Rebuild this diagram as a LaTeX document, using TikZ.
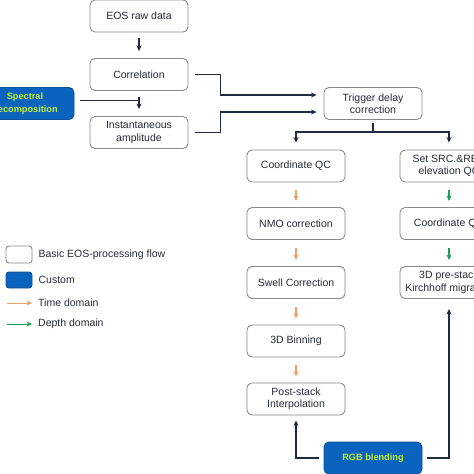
\documentclass[tikz,border=0pt]{standalone}
\usepackage{fontspec}
\setmainfont{Liberation Sans}
\usetikzlibrary{arrows, arrows.meta}
\usetikzlibrary{calc}
\usetikzlibrary{positioning}

\definecolor{navy}{HTML}{1F2A44}
\definecolor{boxgray}{HTML}{8A8A8A}
\definecolor{custblue}{HTML}{0A64BE}
\definecolor{lime}{HTML}{C6F02E}
\definecolor{timeor}{HTML}{E8A266}
\definecolor{depthgr}{HTML}{1E9E55}
\definecolor{txt}{HTML}{252B38}

\tikzset{
  flow/.style={draw=boxgray, line width=0.9pt, rounded corners=5pt, fill=white,
    minimum width=98pt, minimum height=32pt, inner sep=1pt, align=center,
    text=txt, font=\fontsize{10.5}{12.5}\selectfont},
  custom/.style={flow, draw=custblue!80!black, fill=custblue, text=lime,
    font=\fontsize{9.2}{12.5}\selectfont\bfseries},
  wire/.style={draw=navy, line width=1.4pt},
  link/.style={wire, -{Stealth[length=5.5pt, width=5pt]}},
  timelink/.style={link, draw=timeor},
  depthlink/.style={link, draw=depthgr},
  lgtext/.style={inner sep=0pt, anchor=west, text=txt, font=\fontsize{10.5}{12.5}\selectfont},
}

\begin{document}
\begin{tikzpicture}[x=1pt, y=-1pt]
  \clip (0,0) rectangle (474,474);
  \fill[white] (0,0) rectangle (474,474);

  % main flow
  \node[flow] (raw) at (139,16) {EOS raw data};
  \node[flow] (corr) at (139,74.5) {Correlation};
  \node[flow] (inst) at (139,132.5) {Instantaneous\\amplitude};
  \node[custom] (spec) at (25,103.5) {Spectral\\decomposition};
  \node[flow] (trig) at (373,103.5) {Trigger delay\\correction};

  % time domain branch
  \node[flow] (cqc) at (296,166) {Coordinate QC};
  \node[flow] (nmo) at (296,223.5) {NMO correction};
  \node[flow] (swell) at (296,282.5) {Swell Correction};
  \node[flow] (bin) at (296,341) {3D Binning};
  \node[flow] (post) at (296,399) {Post-stack\\Interpolation};

  % depth domain branch
  \node[flow] (elev) at (449,166) {Set SRC.\&REC\\elevation QC};
  \node[flow] (cqcd) at (449,223.5) {Coordinate QC};
  \node[flow] (mig) at (449,282.5) {3D pre-stack\\Kirchhoff migration};

  \node[custom] (rgb) at (373,458) {RGB blending};

  \draw[link, shorten <=6pt, shorten >=7pt] (raw) -- (corr);
  \draw[link, shorten <=6pt, shorten >=7pt] (corr) -- (inst);
  \draw[wire] ([xshift=6pt, yshift=3pt]spec.east) -- ([yshift=3pt]spec.east -| corr.south);

  \draw[link] ([xshift=7pt]corr.east) -- ++(25,0) |- ([xshift=-7pt, yshift=8.5pt]trig.west);
  \draw[link] ([xshift=7pt]inst.east) -- ++(25,0) |- ([xshift=-7pt, yshift=-8.5pt]trig.west);

  \coordinate (split) at ($(trig.south)+(0,12)$);
  \draw[wire] ([yshift=-3pt]trig.south) -- (split);
  \draw[link] (split) -| ([yshift=7pt]cqc.north);
  \draw[link] (split) -| ([yshift=7pt]elev.north);

  \draw[timelink, shorten <=8pt, shorten >=6pt] (cqc) -- (nmo);
  \draw[timelink, shorten <=8pt, shorten >=6pt] (nmo) -- (swell);
  \draw[timelink, shorten <=8pt, shorten >=6pt] (swell) -- (bin);
  \draw[timelink, shorten <=8pt, shorten >=6pt] (bin) -- (post);

  \draw[depthlink, shorten <=8pt, shorten >=6pt] (elev) -- (cqcd);
  \draw[depthlink, shorten <=8pt, shorten >=6pt] (cqcd) -- (mig);

  \draw[link] ([xshift=-5pt]rgb.west) -| ([yshift=-5pt]post.south);
  \draw[link] ([xshift=5pt]rgb.east) -| ([yshift=-10pt]mig.south);

  % legend
  \node[flow, minimum width=26pt, minimum height=17pt, rounded corners=3pt] (lgflow) at (19,254.5) {};
  \node[custom, minimum width=26pt, minimum height=16pt, rounded corners=3pt] (lgcust) at (19,280) {};
  \node[lgtext, right=6pt of lgflow] (lgflowtxt) {Basic EOS-processing flow};
  \node[lgtext, right=6pt of lgcust] (lgcusttxt) {Custom};
  \coordinate (t0) at (7,303);
  \coordinate (t1) at (32,303);
  \coordinate (d0) at (7,324);
  \coordinate (d1) at (32,324);
  \draw[timelink, line width=1pt] (t0) -- (t1);
  \draw[depthlink, line width=1pt] (d0) -- (d1);
  \node[lgtext, right=6pt of t1] (lgtime) {Time domain};
  \node[lgtext, right=6pt of d1] (lgdepth) {Depth domain};
\end{tikzpicture}
\end{document}
